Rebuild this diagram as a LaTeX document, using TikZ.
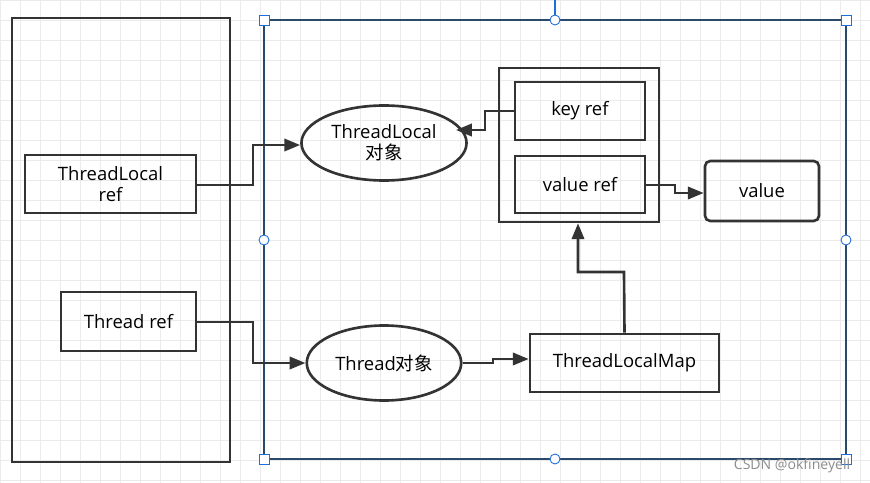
\documentclass[tikz,border=0pt]{standalone}
\usepackage{fontspec}
\setmainfont{Open Sans}
\newfontfamily\cjk{Noto Sans CJK SC}
\usetikzlibrary{arrows.meta,shapes.geometric}
\definecolor{frm}{HTML}{2B4A6B}
\definecolor{hnd}{HTML}{1E6FD9}
\begin{document}
\begin{tikzpicture}[x=0.02cm,y=-0.02cm,
  bx/.style={draw=black!80,line width=1.5,inner sep=0},
  ln/.style={draw=black!80,line width=1.5,-{Triangle[length=9pt,width=7pt]}},
  el/.style={ellipse,draw=black!80,line width=1.5,minimum width=150*0.02cm,minimum height=75*0.02cm,align=center,font=\fontsize{10.5}{12}\selectfont},
  tx/.style={font=\fontsize{10.5}{12}\selectfont,align=center},
  hs/.style={draw=hnd,fill=white,line width=0.5pt}]
\useasboundingbox (0,0) rectangle (870,483);
\fill[white] (0,0) rectangle (870,483);
\foreach \i in {0,20,...,870} \draw[black!8,line width=0.4pt] (\i,0)--(\i,483);
\foreach \j in {0,20,...,483} \draw[black!8,line width=0.4pt] (0,\j)--(870,\j);
\draw[bx] (12,18) rectangle (230,462);
\draw[frm,line width=1.3] (264,20) rectangle (846,459);
\draw[hnd,line width=0.8pt] (555,0)--(555,20);
\node[bx,minimum width=171*0.02cm,minimum height=58*0.02cm,tx] (tlr) at (110.5,184) {ThreadLocal\\ref};
\node[bx,minimum width=135*0.02cm,minimum height=59*0.02cm,tx] (tr) at (128.5,321.5) {Thread ref};
\node[el] (tlo) at (384,143) {ThreadLocal\\{\cjk 对象}};
\node[el] (to) at (384,363) {Thread{\cjk 对象}};
\node[bx,minimum width=160*0.02cm,minimum height=154*0.02cm] (ob) at (579,145) {};
\node[bx,minimum width=130*0.02cm,minimum height=58*0.02cm,tx] (kr) at (580,111) {key ref};
\node[bx,minimum width=130*0.02cm,minimum height=57*0.02cm,tx] (vr) at (580,184.5) {value ref};
\node[bx,rounded corners=3pt,minimum width=114*0.02cm,minimum height=60*0.02cm,tx] (v) at (762,191) {value};
\node[bx,minimum width=189*0.02cm,minimum height=58*0.02cm,tx] (tlm) at (624.5,363) {ThreadLocalMap};
\coordinate (a1) at (253,185); \coordinate (a2) at (253,145);
\draw[ln] (tlr.east|-a1) -- (a1) -- (a2) -- (tlo.west|-a2);
\coordinate (b1) at (253,322); \coordinate (b2) at (253,363);
\draw[ln] (tr.east|-b1) -- (b1) -- (b2) -- (to.west);
\coordinate (c1) at (485,111); \coordinate (c2) at (485,130);
\draw[ln] (kr.west) -- (c1) -- (c2) -- (456,130);
\coordinate (d1) at (675,185); \coordinate (d2) at (675,193);
\draw[ln] (vr.east|-d1) -- (d1) -- (d2) -- (v.west|-d2);
\coordinate (e1) at (493,363); \coordinate (e2) at (493,359);
\draw[ln] (to.east) -- (e1) -- (e2) -- (tlm.west|-e2);
\coordinate (f1) at (624,272); \coordinate (f2) at (578,272);
\draw[ln] (tlm.north) -- (f1) -- (f2) -- (ob.south-|f2);
\foreach \p in {(264,20),(846,20),(264,459),(846,459)} \draw[hs] \p +(-5,-5) rectangle +(5,5);
\foreach \p in {(555,20),(264,240),(846,240),(555,459)} \draw[hs] \p circle (5);
\node[text=black!45,font=\fontsize{8}{9}\selectfont] (wm) at (792,466) {CSDN @okfineyell};
\end{tikzpicture}
\end{document}
